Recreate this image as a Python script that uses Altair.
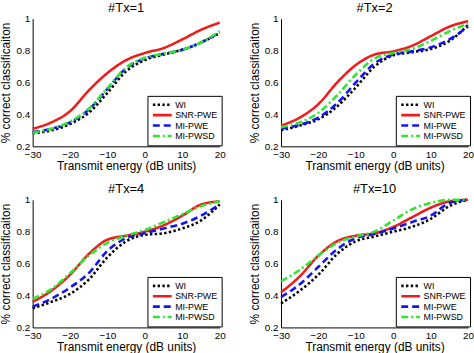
import altair as alt
import pandas as pd

# ---------------- data ----------------
x_vals = [-30, -25, -20, -15, -10, -5, 0, 5, 10, 15, 20]
series_names = ["WI", "SNR-PWE", "MI-PWE", "MI-PWSD"]
panel_titles = ["#Tx=1", "#Tx=2", "#Tx=4", "#Tx=10"]

tx1_wi      = [0.283, 0.300, 0.340, 0.410, 0.535, 0.670, 0.740, 0.775, 0.805, 0.850, 0.910]
tx1_snr     = [0.310, 0.350, 0.420, 0.550, 0.660, 0.740, 0.785, 0.816, 0.870, 0.930, 0.975]
tx1_mipwe   = [0.290, 0.310, 0.350, 0.430, 0.560, 0.690, 0.750, 0.780, 0.805, 0.850, 0.915]
tx1_mipwsd  = [0.285, 0.310, 0.355, 0.435, 0.565, 0.695, 0.755, 0.780, 0.805, 0.850, 0.920]

tx2_wi      = [0.300, 0.330, 0.370, 0.450, 0.570, 0.700, 0.770, 0.790, 0.810, 0.860, 0.960]
tx2_snr     = [0.330, 0.380, 0.465, 0.600, 0.710, 0.775, 0.795, 0.830, 0.890, 0.950, 0.985]
tx2_mipwe   = [0.310, 0.335, 0.380, 0.470, 0.600, 0.720, 0.775, 0.795, 0.820, 0.870, 0.950]
tx2_mipwsd  = [0.320, 0.350, 0.410, 0.520, 0.650, 0.750, 0.785, 0.810, 0.860, 0.920, 0.970]

tx4_wi      = [0.320, 0.360, 0.410, 0.500, 0.640, 0.740, 0.780, 0.790, 0.820, 0.870, 0.970]
tx4_snr     = [0.360, 0.430, 0.530, 0.660, 0.750, 0.775, 0.800, 0.840, 0.900, 0.970, 0.990]
tx4_mipwe   = [0.330, 0.380, 0.450, 0.540, 0.680, 0.760, 0.790, 0.820, 0.850, 0.900, 0.970]
tx4_mipwsd  = [0.380, 0.440, 0.540, 0.650, 0.730, 0.775, 0.810, 0.860, 0.910, 0.960, 0.990]

tx10_wi     = [0.350, 0.430, 0.530, 0.660, 0.740, 0.770, 0.800, 0.830, 0.880, 0.960, 1.000]
tx10_snr    = [0.420, 0.520, 0.650, 0.740, 0.775, 0.790, 0.830, 0.890, 0.950, 0.990, 1.000]
tx10_mipwe  = [0.390, 0.470, 0.580, 0.690, 0.760, 0.785, 0.820, 0.860, 0.900, 0.980, 1.000]
tx10_mipwsd = [0.490, 0.560, 0.650, 0.730, 0.770, 0.800, 0.870, 0.940, 0.980, 1.000, 1.000]

panels = [
    [tx1_wi, tx1_snr, tx1_mipwe, tx1_mipwsd],
    [tx2_wi, tx2_snr, tx2_mipwe, tx2_mipwsd],
    [tx4_wi, tx4_snr, tx4_mipwe, tx4_mipwsd],
    [tx10_wi, tx10_snr, tx10_mipwe, tx10_mipwsd],
]

x_ticks = [-30, -20, -10, 0, 10, 20]
y_ticks = [0.2, 0.4, 0.6, 0.8, 1.0]

colors = ["#000000", "#ee1c1c", "#1414ee", "#2ee62e"]
dashes = [[2.4, 2.4], [1, 0], [7, 4], [7, 3, 2, 3]]

FONT = "Liberation Sans"


def legend():
    return alt.Legend(
        title=None,
        orient="none",
        legendX=116,
        legendY=78,
        fillColor="white",
        strokeColor="#000000",
        padding=4,
        rowPadding=0.5,
        clipHeight=10,
        labelFont=FONT,
        labelFontSize=9,
        labelColor="#000000",
        labelOffset=2,
        symbolType="stroke",
        symbolSize=361,
        symbolStrokeWidth=2.6,
        cornerRadius=0,
    )


def make_panel(title, series):
    rows = []
    for name, vals in zip(series_names, series):
        for x, y in zip(x_vals, vals):
            rows.append({"x": x, "y": y, "series": name})
    df = pd.DataFrame(rows)
    return (
        alt.Chart(df, title=alt.Title(title, fontSize=13, font=FONT,
                                       fontWeight="normal", offset=-1))
        .mark_line(strokeWidth=2.6, interpolate="monotone", strokeCap="butt")
        .encode(
            x=alt.X("x:Q",
                    scale=alt.Scale(domain=[-30, 20], nice=False, zero=False),
                    axis=alt.Axis(values=x_ticks, title="Transmit energy (dB units)",
                                  labelFlush=False, titlePadding=1)),
            y=alt.Y("y:Q",
                    scale=alt.Scale(domain=[0.2, 1.0], nice=False, zero=False),
                    axis=alt.Axis(values=y_ticks, format="~g",
                                  title="% correct classificaiton", titlePadding=3)),
            color=alt.Color("series:N",
                            scale=alt.Scale(domain=series_names, range=colors),
                            legend=legend()),
            strokeDash=alt.StrokeDash("series:N",
                                      scale=alt.Scale(domain=series_names, range=dashes),
                                      legend=legend()),
        )
        .properties(width=189, height=129)
    )


charts = [make_panel(t, s) for t, s in zip(panel_titles, panels)]

chart = (
    alt.concat(*charts, columns=2, spacing={"column": 23, "row": 11})
    .resolve_scale(color="independent", strokeDash="independent")
    .resolve_legend(color="independent", strokeDash="independent")
    .properties(padding={"left": 0, "top": 0, "right": 0, "bottom": 0})
    .configure_view(stroke=None)
    .configure_axis(
        grid=False,
        domainColor="#000000",
        domainWidth=1,
        ticks=False,
        labelFont=FONT,
        labelFontSize=10,
        labelColor="#000000",
        labelPadding=3,
        titleFont=FONT,
        titleFontSize=12,
        titleFontWeight="normal",
        titleColor="#000000",
    )
)

chart.save("out.html", embed_options={"renderer": "svg", "actions": False})
